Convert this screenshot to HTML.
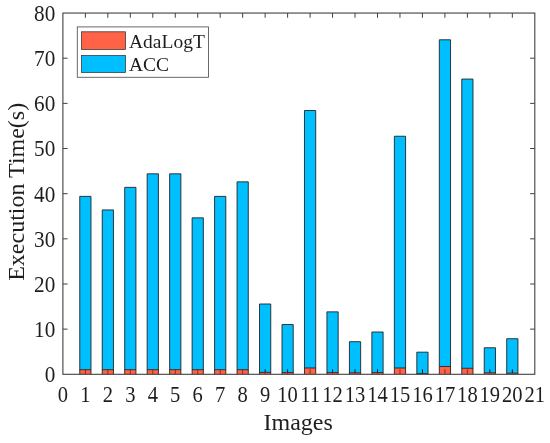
<!DOCTYPE html><html><head><meta charset="utf-8"><title>chart</title>
<style>html,body{margin:0;padding:0;background:#fff}svg{display:block}text{font-family:"Liberation Serif",serif;fill:#1e1e1e}</style></head><body>
<svg width="550" height="443" viewBox="0 0 550 443">
<rect width="550" height="443" fill="#fff"/>
<rect x="79.75" y="196.38" width="11.24" height="173.31" fill="#00BFFF"/>
<rect x="79.75" y="369.69" width="11.24" height="4.61" fill="#FF6347"/>
<path d="M79.75 374.3V196.38h11.24V374.3M79.75 369.69h11.24" fill="none" stroke="#1a1a1a" stroke-width="0.85"/>
<rect x="102.22" y="209.93" width="11.24" height="159.76" fill="#00BFFF"/>
<rect x="102.22" y="369.69" width="11.24" height="4.61" fill="#FF6347"/>
<path d="M102.22 374.3V209.93h11.24V374.3M102.22 369.69h11.24" fill="none" stroke="#1a1a1a" stroke-width="0.85"/>
<rect x="124.70" y="187.35" width="11.24" height="182.34" fill="#00BFFF"/>
<rect x="124.70" y="369.69" width="11.24" height="4.61" fill="#FF6347"/>
<path d="M124.70 374.3V187.35h11.24V374.3M124.70 369.69h11.24" fill="none" stroke="#1a1a1a" stroke-width="0.85"/>
<rect x="147.17" y="173.81" width="11.24" height="195.89" fill="#00BFFF"/>
<rect x="147.17" y="369.69" width="11.24" height="4.61" fill="#FF6347"/>
<path d="M147.17 374.3V173.81h11.24V374.3M147.17 369.69h11.24" fill="none" stroke="#1a1a1a" stroke-width="0.85"/>
<rect x="169.64" y="173.81" width="11.24" height="195.89" fill="#00BFFF"/>
<rect x="169.64" y="369.69" width="11.24" height="4.61" fill="#FF6347"/>
<path d="M169.64 374.3V173.81h11.24V374.3M169.64 369.69h11.24" fill="none" stroke="#1a1a1a" stroke-width="0.85"/>
<rect x="192.11" y="217.83" width="11.24" height="151.86" fill="#00BFFF"/>
<rect x="192.11" y="369.69" width="11.24" height="4.61" fill="#FF6347"/>
<path d="M192.11 374.3V217.83h11.24V374.3M192.11 369.69h11.24" fill="none" stroke="#1a1a1a" stroke-width="0.85"/>
<rect x="214.58" y="196.38" width="11.24" height="173.31" fill="#00BFFF"/>
<rect x="214.58" y="369.69" width="11.24" height="4.61" fill="#FF6347"/>
<path d="M214.58 374.3V196.38h11.24V374.3M214.58 369.69h11.24" fill="none" stroke="#1a1a1a" stroke-width="0.85"/>
<rect x="237.05" y="181.84" width="11.24" height="187.85" fill="#00BFFF"/>
<rect x="237.05" y="369.69" width="11.24" height="4.61" fill="#FF6347"/>
<path d="M237.05 374.3V181.84h11.24V374.3M237.05 369.69h11.24" fill="none" stroke="#1a1a1a" stroke-width="0.85"/>
<rect x="259.52" y="303.99" width="11.24" height="68.41" fill="#00BFFF"/>
<rect x="259.52" y="372.40" width="11.24" height="1.90" fill="#FF6347"/>
<path d="M259.52 374.3V303.99h11.24V374.3M259.52 372.40h11.24" fill="none" stroke="#1a1a1a" stroke-width="0.85"/>
<rect x="282.00" y="324.54" width="11.24" height="48.05" fill="#00BFFF"/>
<rect x="282.00" y="372.58" width="11.24" height="1.72" fill="#FF6347"/>
<path d="M282.00 374.3V324.54h11.24V374.3M282.00 372.58h11.24" fill="none" stroke="#1a1a1a" stroke-width="0.85"/>
<rect x="304.47" y="110.50" width="11.24" height="257.48" fill="#00BFFF"/>
<rect x="304.47" y="367.98" width="11.24" height="6.32" fill="#FF6347"/>
<path d="M304.47 374.3V110.50h11.24V374.3M304.47 367.98h11.24" fill="none" stroke="#1a1a1a" stroke-width="0.85"/>
<rect x="326.94" y="311.85" width="11.24" height="60.74" fill="#00BFFF"/>
<rect x="326.94" y="372.58" width="11.24" height="1.72" fill="#FF6347"/>
<path d="M326.94 374.3V311.85h11.24V374.3M326.94 372.58h11.24" fill="none" stroke="#1a1a1a" stroke-width="0.85"/>
<rect x="349.41" y="341.70" width="11.24" height="31.11" fill="#00BFFF"/>
<rect x="349.41" y="372.81" width="11.24" height="1.49" fill="#FF6347"/>
<path d="M349.41 374.3V341.70h11.24V374.3M349.41 372.81h11.24" fill="none" stroke="#1a1a1a" stroke-width="0.85"/>
<rect x="371.88" y="331.99" width="11.24" height="40.60" fill="#00BFFF"/>
<rect x="371.88" y="372.58" width="11.24" height="1.72" fill="#FF6347"/>
<path d="M371.88 374.3V331.99h11.24V374.3M371.88 372.58h11.24" fill="none" stroke="#1a1a1a" stroke-width="0.85"/>
<rect x="394.35" y="136.24" width="11.24" height="231.74" fill="#00BFFF"/>
<rect x="394.35" y="367.98" width="11.24" height="6.32" fill="#FF6347"/>
<path d="M394.35 374.3V136.24h11.24V374.3M394.35 367.98h11.24" fill="none" stroke="#1a1a1a" stroke-width="0.85"/>
<rect x="416.82" y="352.17" width="11.24" height="21.45" fill="#00BFFF"/>
<rect x="416.82" y="373.62" width="11.24" height="0.68" fill="#FF6347"/>
<path d="M416.82 374.3V352.17h11.24V374.3M416.82 373.62h11.24" fill="none" stroke="#1a1a1a" stroke-width="0.85"/>
<rect x="439.30" y="39.78" width="11.24" height="326.75" fill="#00BFFF"/>
<rect x="439.30" y="366.53" width="11.24" height="7.77" fill="#FF6347"/>
<path d="M439.30 374.3V39.78h11.24V374.3M439.30 366.53h11.24" fill="none" stroke="#1a1a1a" stroke-width="0.85"/>
<rect x="461.77" y="79.07" width="11.24" height="289.23" fill="#00BFFF"/>
<rect x="461.77" y="368.29" width="11.24" height="6.01" fill="#FF6347"/>
<path d="M461.77 374.3V79.07h11.24V374.3M461.77 368.29h11.24" fill="none" stroke="#1a1a1a" stroke-width="0.85"/>
<rect x="484.24" y="347.75" width="11.24" height="25.06" fill="#00BFFF"/>
<rect x="484.24" y="372.81" width="11.24" height="1.49" fill="#FF6347"/>
<path d="M484.24 374.3V347.75h11.24V374.3M484.24 372.81h11.24" fill="none" stroke="#1a1a1a" stroke-width="0.85"/>
<rect x="506.71" y="338.72" width="11.24" height="34.45" fill="#00BFFF"/>
<rect x="506.71" y="373.17" width="11.24" height="1.13" fill="#FF6347"/>
<path d="M506.71 374.3V338.72h11.24V374.3M506.71 373.17h11.24" fill="none" stroke="#1a1a1a" stroke-width="0.85"/>
<rect x="62.9" y="13.05" width="471.90" height="361.25" fill="none" stroke="#404040" stroke-width="1.1"/>
<path d="M85.37 13.05v4.7M107.84 13.05v4.7M130.31 13.05v4.7M152.79 13.05v4.7M175.26 13.05v4.7M197.73 13.05v4.7M220.20 13.05v4.7M242.67 13.05v4.7M265.14 13.05v4.7M287.61 13.05v4.7M310.09 13.05v4.7M332.56 13.05v4.7M355.03 13.05v4.7M377.50 13.05v4.7M399.97 13.05v4.7M422.44 13.05v4.7M444.91 13.05v4.7M467.39 13.05v4.7M489.86 13.05v4.7M512.33 13.05v4.7M62.9 329.14h4.7M534.8 329.14h-4.7M62.9 283.99h4.7M534.8 283.99h-4.7M62.9 238.83h4.7M534.8 238.83h-4.7M62.9 193.68h4.7M534.8 193.68h-4.7M62.9 148.52h4.7M534.8 148.52h-4.7M62.9 103.36h4.7M534.8 103.36h-4.7M62.9 58.21h4.7M534.8 58.21h-4.7" stroke="#404040" stroke-width="1" fill="none"/>
<path d="M85.37 369.69v-0.39M107.84 369.69v-0.39M130.31 369.69v-0.39M152.79 369.69v-0.39M175.26 369.69v-0.39M197.73 369.69v-0.39M220.20 369.69v-0.39M242.67 369.69v-0.39M265.14 372.40v-3.10M287.61 372.58v-3.28M332.56 372.58v-3.28M355.03 372.81v-3.51M377.50 372.58v-3.28M422.44 373.62v-4.32M489.86 372.81v-3.51M512.33 373.17v-3.87" stroke="#1c1c1c" stroke-width="1" fill="none"/>
<path d="M85.37 374.3v-4.61M107.84 374.3v-4.61M130.31 374.3v-4.61M152.79 374.3v-4.61M175.26 374.3v-4.61M197.73 374.3v-4.61M220.20 374.3v-4.61M242.67 374.3v-4.61M265.14 374.3v-1.90M287.61 374.3v-1.72M310.09 374.3v-5.0M332.56 374.3v-1.72M355.03 374.3v-1.49M377.50 374.3v-1.72M399.97 374.3v-5.0M422.44 374.3v-0.68M444.91 374.3v-5.0M467.39 374.3v-5.0M489.86 374.3v-1.49M512.33 374.3v-1.13" stroke="#8a3626" stroke-width="1.1" fill="none"/>
<text transform="translate(62.90 401.8) scale(0.97 1.045)" font-size="21.2" text-anchor="middle">0</text>
<text transform="translate(85.37 401.8) scale(0.97 1.045)" font-size="21.2" text-anchor="middle">1</text>
<text transform="translate(107.84 401.8) scale(0.97 1.045)" font-size="21.2" text-anchor="middle">2</text>
<text transform="translate(130.31 401.8) scale(0.97 1.045)" font-size="21.2" text-anchor="middle">3</text>
<text transform="translate(152.79 401.8) scale(0.97 1.045)" font-size="21.2" text-anchor="middle">4</text>
<text transform="translate(175.26 401.8) scale(0.97 1.045)" font-size="21.2" text-anchor="middle">5</text>
<text transform="translate(197.73 401.8) scale(0.97 1.045)" font-size="21.2" text-anchor="middle">6</text>
<text transform="translate(220.20 401.8) scale(0.97 1.045)" font-size="21.2" text-anchor="middle">7</text>
<text transform="translate(242.67 401.8) scale(0.97 1.045)" font-size="21.2" text-anchor="middle">8</text>
<text transform="translate(265.14 401.8) scale(0.97 1.045)" font-size="21.2" text-anchor="middle">9</text>
<text transform="translate(287.61 401.8) scale(0.97 1.045)" font-size="21.2" text-anchor="middle">10</text>
<text transform="translate(310.09 401.8) scale(0.97 1.045)" font-size="21.2" text-anchor="middle">11</text>
<text transform="translate(332.56 401.8) scale(0.97 1.045)" font-size="21.2" text-anchor="middle">12</text>
<text transform="translate(355.03 401.8) scale(0.97 1.045)" font-size="21.2" text-anchor="middle">13</text>
<text transform="translate(377.50 401.8) scale(0.97 1.045)" font-size="21.2" text-anchor="middle">14</text>
<text transform="translate(399.97 401.8) scale(0.97 1.045)" font-size="21.2" text-anchor="middle">15</text>
<text transform="translate(422.44 401.8) scale(0.97 1.045)" font-size="21.2" text-anchor="middle">16</text>
<text transform="translate(444.91 401.8) scale(0.97 1.045)" font-size="21.2" text-anchor="middle">17</text>
<text transform="translate(467.39 401.8) scale(0.97 1.045)" font-size="21.2" text-anchor="middle">18</text>
<text transform="translate(489.86 401.8) scale(0.97 1.045)" font-size="21.2" text-anchor="middle">19</text>
<text transform="translate(512.33 401.8) scale(0.97 1.045)" font-size="21.2" text-anchor="middle">20</text>
<text transform="translate(534.80 401.8) scale(0.97 1.045)" font-size="21.2" text-anchor="middle">21</text>
<text transform="translate(55.3 382.20) scale(1 1.045)" font-size="21.2" text-anchor="end">0</text>
<text transform="translate(55.3 337.04) scale(1 1.045)" font-size="21.2" text-anchor="end">10</text>
<text transform="translate(55.3 291.89) scale(1 1.045)" font-size="21.2" text-anchor="end">20</text>
<text transform="translate(55.3 246.73) scale(1 1.045)" font-size="21.2" text-anchor="end">30</text>
<text transform="translate(55.3 201.58) scale(1 1.045)" font-size="21.2" text-anchor="end">40</text>
<text transform="translate(55.3 156.42) scale(1 1.045)" font-size="21.2" text-anchor="end">50</text>
<text transform="translate(55.3 111.26) scale(1 1.045)" font-size="21.2" text-anchor="end">60</text>
<text transform="translate(55.3 66.11) scale(1 1.045)" font-size="21.2" text-anchor="end">70</text>
<text transform="translate(55.3 20.95) scale(1 1.045)" font-size="21.2" text-anchor="end">80</text>
<text x="298.2" y="429.5" font-size="24" text-anchor="middle">Images</text>
<text transform="translate(24.3 191.8) rotate(-90)" font-size="24" text-anchor="middle">Execution Time(s)</text>
<rect x="77.3" y="26.9" width="131.2" height="50.4" fill="#fff" stroke="#5a5a5a" stroke-width="0.9"/>
<rect x="81.5" y="31.8" width="44" height="17.7" fill="#FF6347" stroke="#333" stroke-width="0.75"/>
<rect x="81.5" y="55.5" width="44" height="17" fill="#00BFFF" stroke="#333" stroke-width="0.75"/>
<text x="129" y="47.5" font-size="19.5" fill="#000">AdaLogT</text>
<text x="129" y="70.6" font-size="19.5" fill="#000">ACC</text>
</svg></body></html>
